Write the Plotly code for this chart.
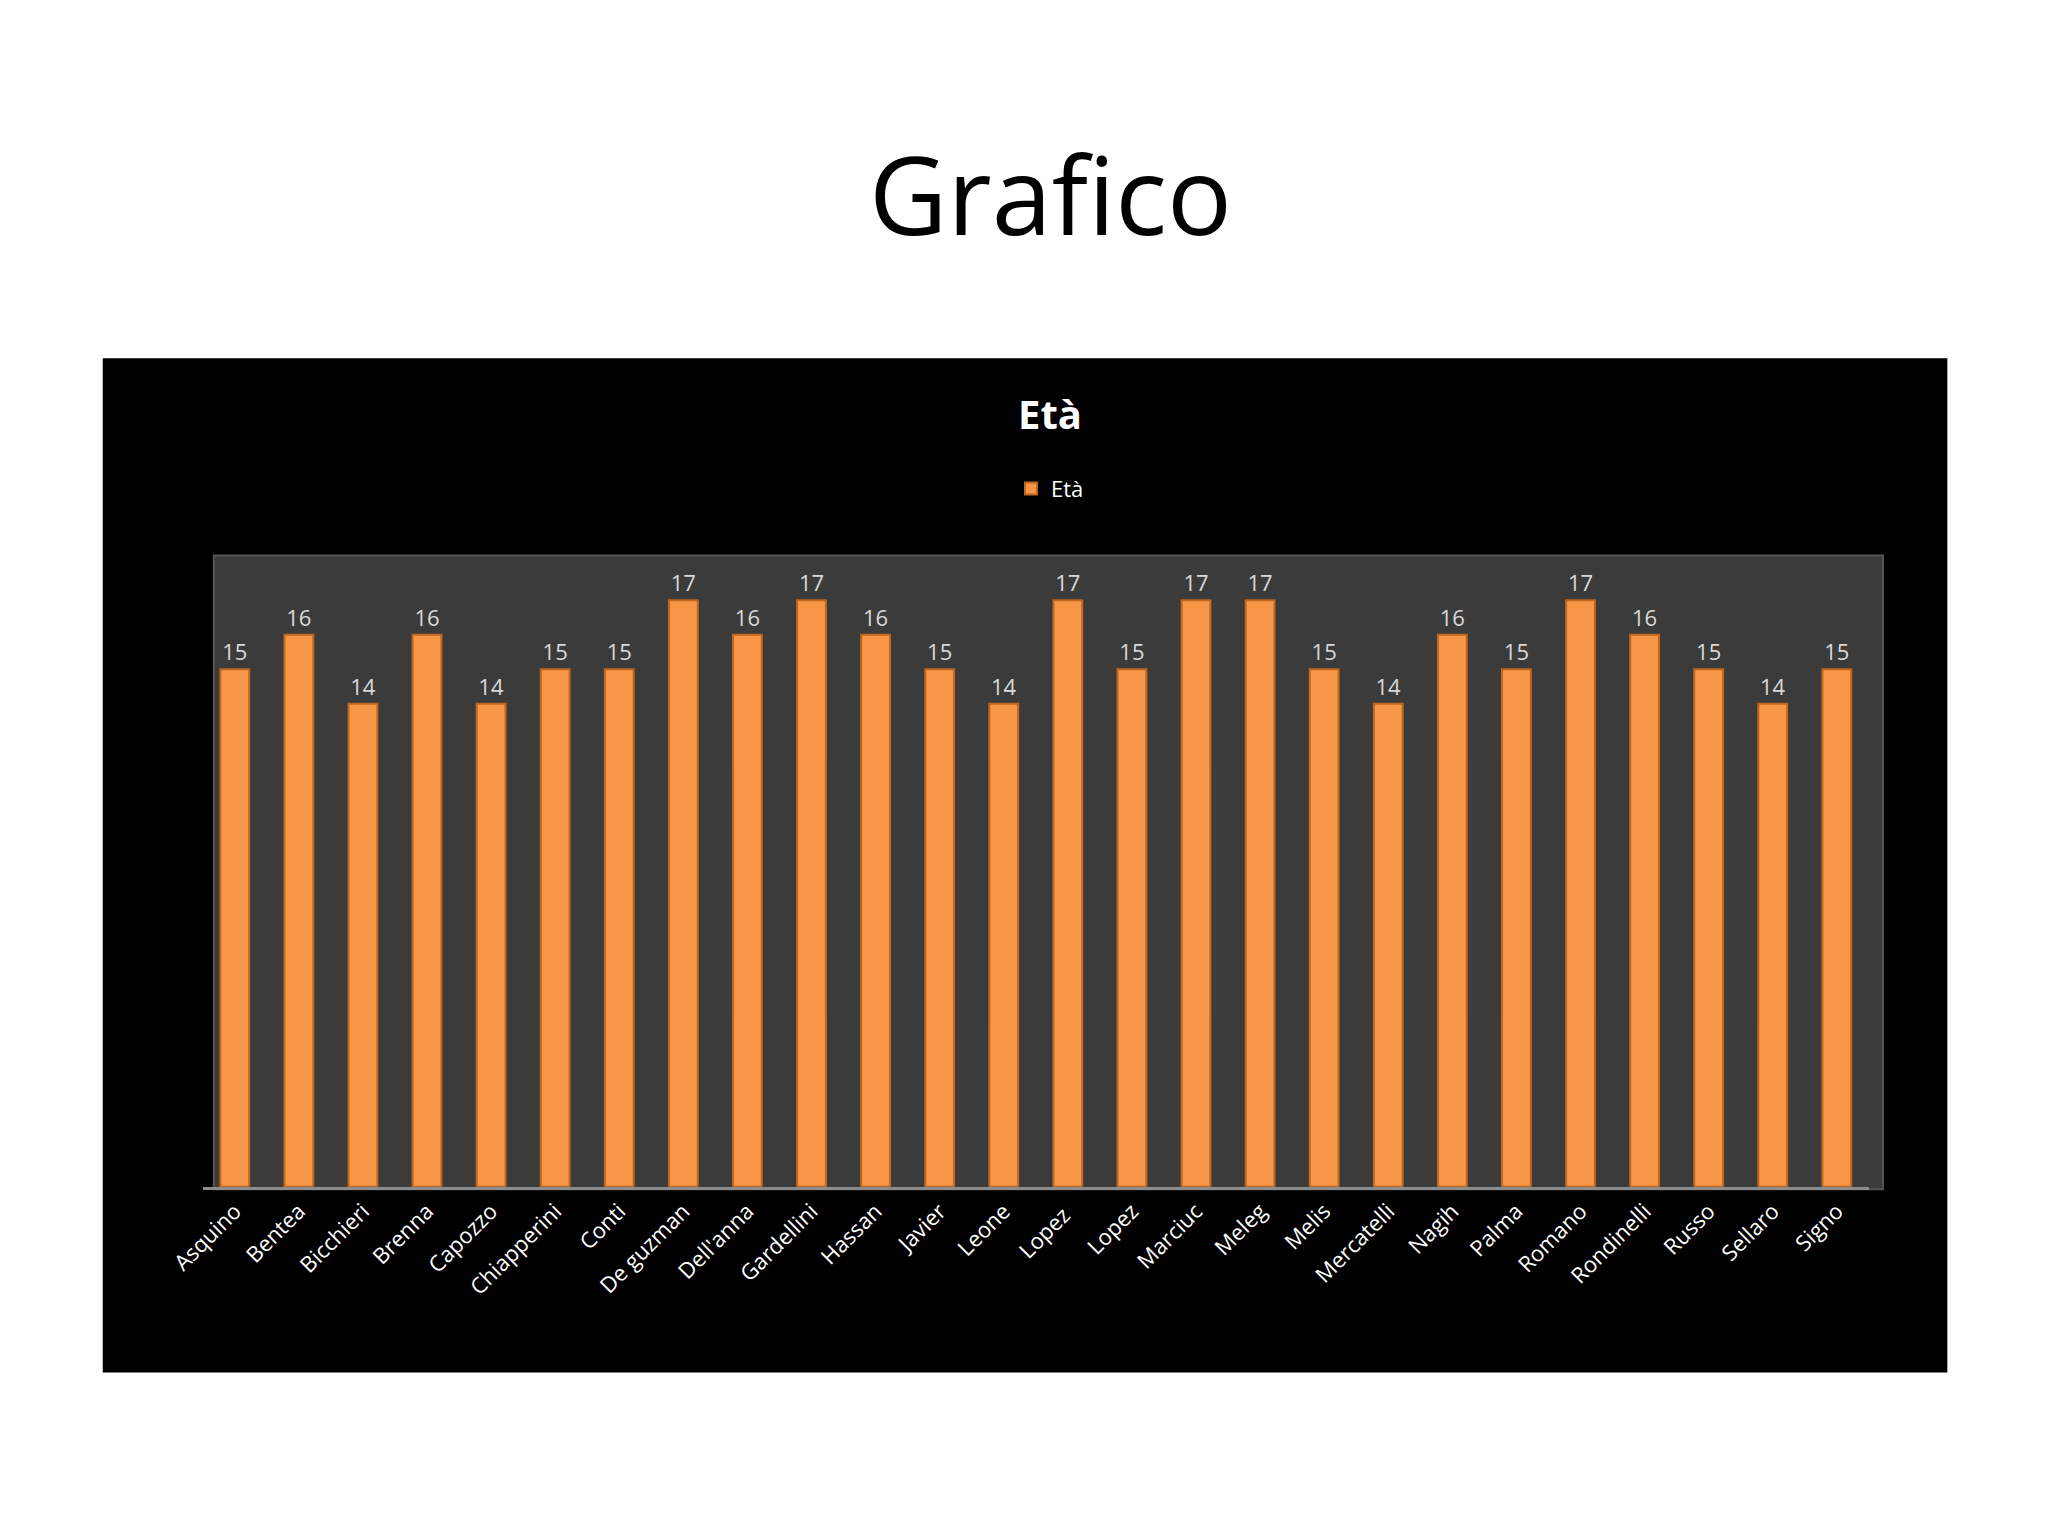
import plotly.graph_objects as go

names = ["Asquino", "Bentea", "Bicchieri", "Brenna", "Capozzo", "Chiapperini", "Conti",
         "De guzman", "Dell'anna", "Gardellini", "Hassan", "Javier", "Leone", "Lopez ",
         "Lopez", "Marciuc", "Meleg", "Melis", "Mercatelli", "Nagih", "Palma", "Romano",
         "Rondinelli", "Russo", "Sellaro", "Signo"]
eta = [15, 16, 14, 16, 14, 15, 15, 17, 16, 17, 16, 15, 14, 17, 15, 17, 17, 15, 14, 16,
       15, 17, 16, 15, 14, 15]

font = "Open Sans, Liberation Sans, sans-serif"

fig = go.Figure(go.Bar(
    x=names, y=eta, name="Età", width=0.45,
    text=eta, textposition="outside", cliponaxis=False,
    textfont=dict(color="#d9d9d9", size=22, family=font),
    marker=dict(color="#f79646", line=dict(color="#c0661e", width=2)),
))

# black chart box
fig.add_shape(type="rect", xref="paper", yref="paper", x0=0.0292, x1=0.946,
              y0=0.1117, y1=0.772, fillcolor="black", line_width=0, layer="below")
# grey back wall
fig.add_shape(type="rect", xref="paper", yref="paper", x0=0.0844, x1=0.914,
              y0=0.231, y1=0.6436, fillcolor="#3b3b3b",
              line=dict(color="#555555", width=2), layer="below")

fig.add_annotation(text="Grafico", xref="paper", yref="paper", x=0.5, y=0.879,
                   yanchor="middle", showarrow=False,
                   font=dict(size=108, color="black", family=font))
fig.add_annotation(text="<b>Età</b>", xref="paper", yref="paper", x=0.5, y=0.736,
                   yanchor="middle", showarrow=False,
                   font=dict(size=40, color="white", family=font))

fig.update_layout(
    width=2048, height=1536,
    margin=dict(l=0, r=0, t=0, b=0),
    paper_bgcolor="white", plot_bgcolor="rgba(0,0,0,0)",
    showlegend=True,
    legend=dict(x=0.5, y=0.687, xanchor="center", yanchor="middle", orientation="h",
                font=dict(color="white", size=22, family=font), bgcolor="rgba(0,0,0,0)"),
    xaxis=dict(domain=[0.0789, 0.907], tickangle=-45, showgrid=False,
               tickfont=dict(color="white", size=22, family=font),
               showline=True, linecolor="#8c8c8c", linewidth=3),
    yaxis=dict(domain=[0.2326, 0.6436], range=[0, 18.3], showticklabels=False,
               showgrid=False, zeroline=False),
)

fig.write_html("out.html")
